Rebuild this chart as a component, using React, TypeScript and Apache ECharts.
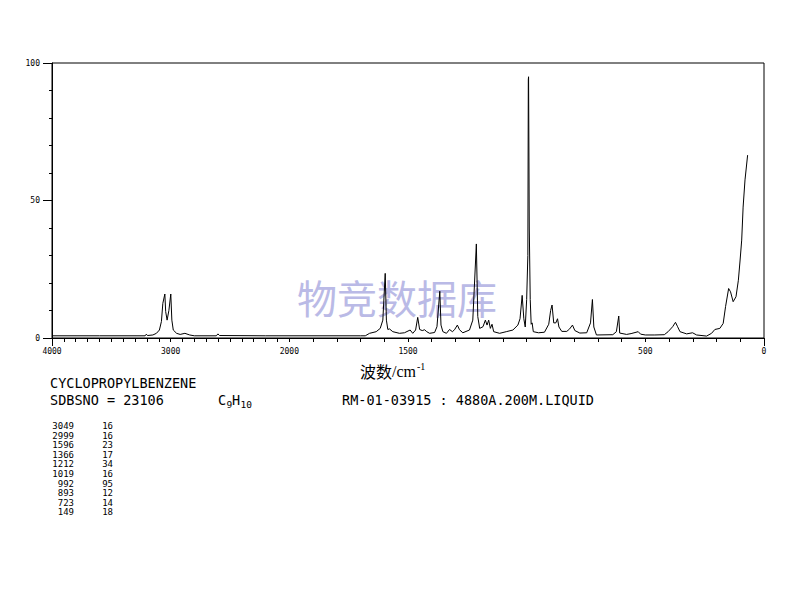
import React, { useEffect, useRef } from "react";
import * as echarts from "echarts";

// Raman spectrum of cyclopropylbenzene, [wavenumber cm-1, relative intensity]
const highRegion: [number, number][] = [
  [4000, 0.8], [3600, 0.8], [3215, 0.8], [3205, 1.4], [3196, 0.9], [3150, 1.1],
  [3120, 1.7], [3095, 2.9], [3078, 6], [3066, 12.6], [3049, 16], [3042, 9.6],
  [3030, 6.5], [3015, 10], [2999, 16], [2990, 6.5], [2978, 2.9], [2950, 1.7],
  [2920, 1.3], [2880, 1.7], [2840, 1.1], [2800, 0.8], [2615, 0.8], [2602, 1.5],
  [2588, 0.9], [2200, 0.8], [1700, 0.8],
];
const midRegion: [number, number][] = [
  [1680, 0.8], [1662, 1.7], [1634, 2.3], [1617, 3.5], [1606, 6.5], [1596, 23.5],
  [1591, 6.5], [1585, 3.1], [1578, 3.3], [1564, 2.3], [1536, 1.7], [1515, 1.9],
  [1491, 2.9], [1480, 1.7], [1468, 2.9], [1459, 7.5], [1451, 3.1], [1440, 2.7],
  [1430, 3], [1421, 2.3], [1409, 1.7], [1388, 2], [1378, 4.1], [1366, 17],
  [1361, 4.7], [1353, 2.3], [1338, 1.7], [1325, 3.1], [1313, 2.3], [1304, 3],
  [1292, 4.7], [1283, 3], [1269, 1.9], [1241, 2.9], [1227, 6.5], [1212, 34.2],
  [1206, 7.8], [1198, 3.5], [1184, 4.1], [1174, 6.5], [1167, 4.7], [1160, 6.5],
  [1153, 3.5], [1146, 5], [1139, 2.3], [1114, 1.7],
];
const fingerprintRegion: [number, number][] = [
  [1086, 2.3], [1058, 2.9], [1037, 4.7], [1028, 7], [1019, 15.5], [1012, 7],
  [1006, 4], [1000, 14], [995, 30], [993, 94], [992, 95], [989, 40], [985, 14],
  [981, 5], [977, 5.5], [972, 2.3], [950, 1.9], [925, 2.1], [907, 5], [899, 10],
  [893, 12], [886, 5.5], [877, 5.5], [870, 7], [864, 4], [852, 2.4], [831, 2.4],
  [819, 3.3], [807, 4.7], [797, 2.7], [776, 1.8], [747, 1.9], [731, 5.5],
  [723, 14], [717, 4], [706, 1.1], [637, 1.2], [622, 2.3], [612, 8], [608, 1.8],
  [579, 1.3], [560, 1.6], [530, 2.3], [520, 1.4], [500, 1.1],
];
const lowRegion: [number, number][] = [
  [460, 1.1], [420, 1.2], [404, 2.3], [385, 4.1], [373, 5.7], [364, 4.1],
  [354, 2.3], [326, 1.5], [301, 1.9], [284, 1.1], [242, 0.7], [221, 1.7],
  [207, 3.1], [186, 3.5], [172, 5.3], [162, 11.4], [149, 18], [141, 16.8],
  [130, 13.2], [118, 15], [108, 21], [101, 28], [94, 35.6], [88, 47.6],
  [80, 57.5], [69, 66.5],
];

const xLabelValues = [4000, 3000, 2000, 1500, 500, 0];
const xTickValues: number[] = [];
for (let w = 0; w <= 4000; w += 100) xTickValues.push(w);
const yTickLabels = [0, 50, 100];

const compoundName = "CYCLOPROPYLBENZENE";
const sdbsLine = "SDBSNO = 23106";
const measurementLine = "RM-01-03915 : 4880A.200M.LIQUID";
const peakWavenumbers = ["3049", "2999", "1596", "1366", "1212", "1019", "992", "893", "723", "149"];
const peakIntensities = ["16", "16", "23", "17", "34", "16", "95", "12", "14", "18"];

// axis is compressed by half above 2000 cm-1
const toAxis = (w: number) => (w <= 2000 ? w : 2000 + (w - 2000) / 2);
const fromAxis = (t: number) => (t <= 2000 ? t : 2000 + (t - 2000) * 2);

const MONO = '"DejaVu Sans Mono", "Liberation Mono", monospace';
const SERIF = '"Liberation Serif", "DejaVu Serif", serif';

export default function App() {
  const ref = useRef<HTMLDivElement>(null);
  useEffect(() => {
    if (!ref.current) return;
    const chart = echarts.init(ref.current, undefined, { renderer: "svg" });
    const data = [...highRegion, ...midRegion, ...fingerprintRegion, ...lowRegion].map(
      ([w, v]) => [toAxis(w), v]
    );
    const text = (t: string, x: number, y: number, size: number, family = MONO, align = "left") => ({
      type: "text",
      x,
      y,
      silent: true,
      style: {
        text: t,
        font: `${size}px ${family}`,
        fill: "#000",
        textAlign: align,
        textVerticalAlign: "middle",
      },
    });
    const graphic: any[] = [
      {
        type: "text",
        x: 397,
        y: 297,
        z: 0,
        silent: true,
        style: {
          text: "物竞数据库",
          font: '40px "Noto Sans CJK SC"',
          fill: "#babae6",
          textAlign: "center",
          textVerticalAlign: "middle",
        },
      },
      text("波数", 360, 371, 16, '"Noto Sans CJK SC"'),
      text("/cm", 392, 371, 16, SERIF),
      text("-1", 417, 366, 10, SERIF),
      text(compoundName, 50, 383, 13.5),
      text(sdbsLine, 50, 400, 13.5),
      text("C", 218, 400, 13.5),
      text("9", 226.5, 404, 9.5),
      text("H", 232, 400, 13.5),
      text("10", 240.5, 404, 9.5),
      text(measurementLine, 342, 400, 13.5),
    ];
    peakWavenumbers.forEach((w, i) => {
      graphic.push(text(w, 74, 426 + i * 9.6, 9, MONO, "right"));
      graphic.push(text(peakIntensities[i], 113, 426 + i * 9.6, 9, MONO, "right"));
    });

    chart.setOption({
      animation: false,
      grid: {
        left: 52,
        right: 30,
        top: 63,
        bottom: 257,
        show: true,
        borderColor: "#000",
        borderWidth: 1,
        backgroundColor: "transparent",
      },
      xAxis: [
        {
          type: "value",
          min: 0,
          max: 3000,
          inverse: true,
          position: "bottom",
          axisLine: { show: true, onZero: false, lineStyle: { color: "#000", width: 1 } },
          splitLine: { show: false },
          axisTick: {
            show: true,
            customValues: xTickValues.map(toAxis),
            length: 4,
            lineStyle: { color: "#000", width: 1 },
          },
          axisLabel: {
            show: true,
            customValues: xLabelValues.map(toAxis),
            formatter: (v: number) => String(Math.round(fromAxis(v))),
            fontFamily: MONO,
            fontSize: 8,
            color: "#000",
            margin: 9,
          },
        },
        {
          type: "value",
          min: 0,
          max: 3000,
          inverse: true,
          position: "bottom",
          axisLine: { show: false, onZero: false },
          splitLine: { show: false },
          axisTick: {
            show: true,
            customValues: [toAxis(4000), toAxis(0)],
            length: 8,
            lineStyle: { color: "#000", width: 1 },
          },
          axisLabel: { show: false },
        },
      ],
      yAxis: {
        type: "value",
        min: 0,
        max: 100,
        interval: 50,
        position: "left",
        axisLine: { show: true, onZero: false, lineStyle: { color: "#000", width: 1 } },
        splitLine: { show: false },
        axisTick: { show: true, length: 9, lineStyle: { color: "#000", width: 1 } },
        minorTick: { show: true, splitNumber: 5, length: 3, lineStyle: { color: "#000", width: 1 } },
        minorSplitLine: { show: false },
        axisLabel: {
          customValues: yTickLabels,
          fontFamily: MONO,
          fontSize: 8,
          color: "#000",
          margin: 12,
        },
      },
      series: [
        {
          type: "line",
          xAxisIndex: 0,
          data,
          showSymbol: false,
          symbol: "none",
          silent: true,
          z: 3,
          lineStyle: { color: "#000", width: 1 },
        },
      ],
      graphic,
    });
    return () => chart.dispose();
  }, []);
  return (
    <div
      ref={ref}
      style={{ position: "fixed", left: 0, top: 0, width: 794, height: 595, background: "#fff" }}
    />
  );
}
